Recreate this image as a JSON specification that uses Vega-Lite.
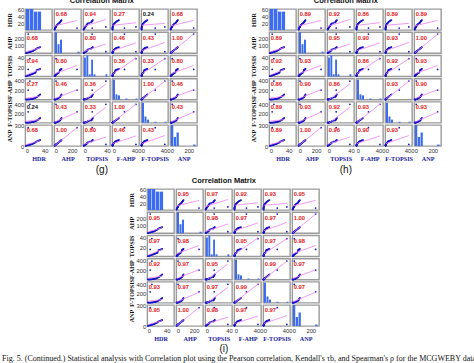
{
"$schema":"https://vega.github.io/schema/vega-lite/v6.json",
"background":"white",
"padding":{"left":2,"top":-3,"right":0,"bottom":0},
"data":{"name":"d"},
"title":{"text":"Fig. 5.   (Continued.) Statistical analysis with Correlation plot using the Pearson correlation, Kendall's τb, and Spearman's ρ for the MCGWEBY dataset","orient":"bottom","anchor":"start","font":"Liberation Serif","fontSize":8,"fontWeight":"normal","offset":1,"dx":-4},
"datasets":{
"d":[
{"H":1.1,"A":2,"T":0.4,"FA":4.0,"FT":5.0,"N":3},
{"H":2.2,"A":4,"T":0.8,"FA":4.0,"FT":5.0,"N":5},
{"H":3.3,"A":6,"T":1.2,"FA":4.1,"FT":5.1,"N":7},
{"H":4.4,"A":8,"T":1.6,"FA":4.3,"FT":5.3,"N":9},
{"H":5.5,"A":10,"T":2.0,"FA":4.6,"FT":5.6,"N":11},
{"H":6.6,"A":12,"T":2.4,"FA":5.1,"FT":6.0,"N":13},
{"H":7.7,"A":14,"T":2.8,"FA":5.7,"FT":6.5,"N":15},
{"H":8.8,"A":16,"T":3.2,"FA":6.6,"FT":7.3,"N":17},
{"H":9.9,"A":18,"T":3.6,"FA":7.6,"FT":8.3,"N":20},
{"H":11.0,"A":20,"T":4.0,"FA":9.0,"FT":9.5,"N":22},
{"H":12.1,"A":22,"T":4.3,"FA":10.7,"FT":11.0,"N":24},
{"H":13.2,"A":24,"T":4.75,"FA":12.6,"FT":12.8,"N":26},
{"H":14.3,"A":26,"T":5.2,"FA":15.0,"FT":14.9,"N":28},
{"H":15.4,"A":30,"T":5.65,"FA":17.7,"FT":17.3,"N":32},
{"H":16.5,"A":34,"T":6.1,"FA":20.9,"FT":20.2,"N":36},
{"H":17.6,"A":38,"T":6.55,"FA":24.5,"FT":23.4,"N":40},
{"H":18.7,"A":42,"T":7.0,"FA":28.6,"FT":27.1,"N":44},
{"H":19.8,"A":46,"T":7.45,"FA":33.2,"FT":31.2,"N":48},
{"H":20.9,"A":50,"T":7.9,"FA":38.3,"FT":35.9,"N":53},
{"H":22.0,"A":58,"T":10.0,"FA":44.0,"FT":41.0,"N":61},
{"H":23.1,"A":61,"T":13.0,"FA":50.3,"FT":46.7,"N":64},
{"H":24.2,"A":64,"T":13.45,"FA":57.2,"FT":52.9,"N":67},
{"H":25.3,"A":67,"T":13.9,"FA":64.8,"FT":59.8,"N":70},
{"H":26.4,"A":70,"T":14.35,"FA":73.1,"FT":67.2,"N":73},
{"H":27.5,"A":73,"T":14.8,"FA":82.1,"FT":75.3,"N":76},
{"H":28.6,"A":76,"T":15.25,"FA":91.9,"FT":84.1,"N":79},
{"H":29.7,"A":79,"T":15.7,"FA":102.4,"FT":93.6,"N":82},
{"H":30.8,"A":82,"T":16.15,"FA":113.8,"FT":103.8,"N":86},
{"H":6,"A":255,"T":15,"FA":205,"FT":235,"N":262},
{"H":9.5,"A":20,"T":38,"FA":398,"FT":396,"N":22}
],
"cg":[
{"c":"H","A":0.68,"T":0.94,"FA":0.27,"FT":0.24,"N":0.68},
{"c":"A","H":0.68,"T":0.80,"FA":0.46,"FT":0.43,"N":1.00},
{"c":"T","H":0.94,"A":0.80,"FA":0.36,"FT":0.33,"N":0.80},
{"c":"FA","H":0.27,"A":0.46,"T":0.36,"FT":1.00,"N":0.46},
{"c":"FT","H":0.24,"A":0.43,"T":0.33,"FA":1.00,"N":0.43},
{"c":"N","H":0.68,"A":1.00,"T":0.80,"FA":0.46,"FT":0.43}
],
"ch":[
{"c":"H","A":0.89,"T":0.92,"FA":0.86,"FT":0.89,"N":0.89},
{"c":"A","H":0.89,"T":0.93,"FA":0.90,"FT":0.93,"N":1.00},
{"c":"T","H":0.92,"A":0.95,"FA":0.86,"FT":0.92,"N":0.96},
{"c":"FA","H":0.86,"A":0.90,"T":0.86,"FT":0.93,"N":0.90},
{"c":"FT","H":0.89,"A":0.93,"T":0.92,"FA":0.93,"N":0.93},
{"c":"N","H":0.89,"A":1.00,"T":0.93,"FA":0.90,"FT":0.93}
],
"ci":[
{"c":"H","A":0.95,"T":0.97,"FA":0.92,"FT":0.93,"N":0.95},
{"c":"A","H":0.95,"T":0.98,"FA":0.97,"FT":0.97,"N":1.00},
{"c":"T","H":0.97,"A":0.98,"FA":0.95,"FT":0.97,"N":0.98},
{"c":"FA","H":0.92,"A":0.97,"T":0.95,"FT":0.99,"N":0.97},
{"c":"FT","H":0.93,"A":0.97,"T":0.97,"FA":0.99,"N":0.97},
{"c":"N","H":0.95,"A":1.00,"T":0.98,"FA":0.97,"FT":0.97}
]
},
"center":true,
"spacing":1,
"vconcat":[
{"spacing":51,"hconcat":[
{"title":{"text":"(g)","orient":"bottom","fontSize":10,"fontWeight":"normal","offset":3},"vconcat":[{"title":{"text":"Correlation Matrix"},"columns":6,"spacing":{"row":2.2,"column":2},"bounds":"flush","concat":[
{"layer":[{"mark":"bar","encoding":{"x":{"field":"H","type":"quantitative","bin":{"step":8},"scale":{"domain":[0,55]},"axis":null},"y":{"aggregate":"count","type":"quantitative","axis":null}}},{"mark":{"type":"point","opacity":0},"encoding":{"y":{"field":"H","type":"quantitative","scale":{"domain":[0,62]},"axis":{"values":[20,40,60],"title":"HDR","orient":"left"}}}}],"resolve":{"scale":{"y":"independent"}}},
{"layer":[{"encoding":{"x":{"field":"A","type":"quantitative","scale":{"domain":[0,300]},"axis":null},"y":{"field":"H","type":"quantitative","scale":{"domain":[0,62]},"axis":null}},"layer":[{"mark":"point"},{"transform":[{"regression":"H","on":"A"}],"mark":{"type":"line","clip":true}}]},{"data":{"name":"cg"},"transform":[{"filter":{"field":"c","equal":"A"}}],"mark":"text","encoding":{"x":{"datum":0,"type":"quantitative","axis":null},"y":{"datum":62,"type":"quantitative","axis":null},"text":{"field":"H","type":"quantitative","format":".2f"}}}]},
{"layer":[{"encoding":{"x":{"field":"T","type":"quantitative","scale":{"domain":[0,45]},"axis":null},"y":{"field":"H","type":"quantitative","scale":{"domain":[0,62]},"axis":null}},"layer":[{"mark":"point"},{"transform":[{"regression":"H","on":"T"}],"mark":{"type":"line","clip":true}}]},{"data":{"name":"cg"},"transform":[{"filter":{"field":"c","equal":"T"}}],"mark":"text","encoding":{"x":{"datum":0,"type":"quantitative","axis":null},"y":{"datum":62,"type":"quantitative","axis":null},"text":{"field":"H","type":"quantitative","format":".2f"}}}]},
{"layer":[{"encoding":{"x":{"field":"FA","type":"quantitative","scale":{"domain":[0,430]},"axis":null},"y":{"field":"H","type":"quantitative","scale":{"domain":[0,62]},"axis":null}},"layer":[{"mark":"point"},{"transform":[{"regression":"H","on":"FA"}],"mark":{"type":"line","clip":true}}]},{"data":{"name":"cg"},"transform":[{"filter":{"field":"c","equal":"FA"}}],"mark":"text","encoding":{"x":{"datum":0,"type":"quantitative","axis":null},"y":{"datum":62,"type":"quantitative","axis":null},"text":{"field":"H","type":"quantitative","format":".2f"}}}]},
{"layer":[{"encoding":{"x":{"field":"FT","type":"quantitative","scale":{"domain":[0,430]},"axis":null},"y":{"field":"H","type":"quantitative","scale":{"domain":[0,62]},"axis":null}},"layer":[{"mark":"point"},{"transform":[{"regression":"H","on":"FT"}],"mark":{"type":"line","clip":true}}]},{"data":{"name":"cg"},"transform":[{"filter":{"field":"c","equal":"FT"}}],"mark":{"type":"text","color":"#111111"},"encoding":{"x":{"datum":0,"type":"quantitative","axis":null},"y":{"datum":62,"type":"quantitative","axis":null},"text":{"field":"H","type":"quantitative","format":".2f"}}}]},
{"layer":[{"encoding":{"x":{"field":"N","type":"quantitative","scale":{"domain":[0,290]},"axis":null},"y":{"field":"H","type":"quantitative","scale":{"domain":[0,62]},"axis":null}},"layer":[{"mark":"point"},{"transform":[{"regression":"H","on":"N"}],"mark":{"type":"line","clip":true}}]},{"data":{"name":"cg"},"transform":[{"filter":{"field":"c","equal":"N"}}],"mark":"text","encoding":{"x":{"datum":0,"type":"quantitative","axis":null},"y":{"datum":62,"type":"quantitative","axis":null},"text":{"field":"H","type":"quantitative","format":".2f"}}}]},
{"layer":[{"encoding":{"x":{"field":"H","type":"quantitative","scale":{"domain":[0,55]},"axis":null},"y":{"field":"A","type":"quantitative","scale":{"domain":[0,265]},"axis":{"values":[100,200],"title":"AHP"}}},"layer":[{"mark":"point"},{"transform":[{"regression":"A","on":"H"}],"mark":{"type":"line","clip":true}}]},{"data":{"name":"cg"},"transform":[{"filter":{"field":"c","equal":"H"}}],"mark":"text","encoding":{"x":{"datum":0,"type":"quantitative","axis":null},"y":{"datum":265,"type":"quantitative"},"text":{"field":"A","type":"quantitative","format":".2f"}}}]},
{"mark":"bar","encoding":{"x":{"field":"A","type":"quantitative","bin":{"step":28},"scale":{"domain":[0,300]},"axis":null},"y":{"aggregate":"count","type":"quantitative","axis":null}}},
{"layer":[{"encoding":{"x":{"field":"T","type":"quantitative","scale":{"domain":[0,45]},"axis":null},"y":{"field":"A","type":"quantitative","scale":{"domain":[0,265]},"axis":null}},"layer":[{"mark":"point"},{"transform":[{"regression":"A","on":"T"}],"mark":{"type":"line","clip":true}}]},{"data":{"name":"cg"},"transform":[{"filter":{"field":"c","equal":"T"}}],"mark":"text","encoding":{"x":{"datum":0,"type":"quantitative","axis":null},"y":{"datum":265,"type":"quantitative","axis":null},"text":{"field":"A","type":"quantitative","format":".2f"}}}]},
{"layer":[{"encoding":{"x":{"field":"FA","type":"quantitative","scale":{"domain":[0,430]},"axis":null},"y":{"field":"A","type":"quantitative","scale":{"domain":[0,265]},"axis":null}},"layer":[{"mark":"point"},{"transform":[{"regression":"A","on":"FA"}],"mark":{"type":"line","clip":true}}]},{"data":{"name":"cg"},"transform":[{"filter":{"field":"c","equal":"FA"}}],"mark":"text","encoding":{"x":{"datum":0,"type":"quantitative","axis":null},"y":{"datum":265,"type":"quantitative","axis":null},"text":{"field":"A","type":"quantitative","format":".2f"}}}]},
{"layer":[{"encoding":{"x":{"field":"FT","type":"quantitative","scale":{"domain":[0,430]},"axis":null},"y":{"field":"A","type":"quantitative","scale":{"domain":[0,265]},"axis":null}},"layer":[{"mark":"point"},{"transform":[{"regression":"A","on":"FT"}],"mark":{"type":"line","clip":true}}]},{"data":{"name":"cg"},"transform":[{"filter":{"field":"c","equal":"FT"}}],"mark":"text","encoding":{"x":{"datum":0,"type":"quantitative","axis":null},"y":{"datum":265,"type":"quantitative","axis":null},"text":{"field":"A","type":"quantitative","format":".2f"}}}]},
{"layer":[{"encoding":{"x":{"field":"N","type":"quantitative","scale":{"domain":[0,290]},"axis":null},"y":{"field":"A","type":"quantitative","scale":{"domain":[0,265]},"axis":null}},"layer":[{"mark":"point"},{"transform":[{"regression":"A","on":"N"}],"mark":{"type":"line","clip":true}}]},{"data":{"name":"cg"},"transform":[{"filter":{"field":"c","equal":"N"}}],"mark":"text","encoding":{"x":{"datum":0,"type":"quantitative","axis":null},"y":{"datum":265,"type":"quantitative","axis":null},"text":{"field":"A","type":"quantitative","format":".2f"}}}]},
{"layer":[{"encoding":{"x":{"field":"H","type":"quantitative","scale":{"domain":[0,55]},"axis":null},"y":{"field":"T","type":"quantitative","scale":{"domain":[0,42]},"axis":{"values":[20,40],"title":"TOPSIS"}}},"layer":[{"mark":"point"},{"transform":[{"regression":"T","on":"H"}],"mark":{"type":"line","clip":true}}]},{"data":{"name":"cg"},"transform":[{"filter":{"field":"c","equal":"H"}}],"mark":"text","encoding":{"x":{"datum":0,"type":"quantitative","axis":null},"y":{"datum":42,"type":"quantitative"},"text":{"field":"T","type":"quantitative","format":".2f"}}}]},
{"layer":[{"encoding":{"x":{"field":"A","type":"quantitative","scale":{"domain":[0,300]},"axis":null},"y":{"field":"T","type":"quantitative","scale":{"domain":[0,42]},"axis":null}},"layer":[{"mark":"point"},{"transform":[{"regression":"T","on":"A"}],"mark":{"type":"line","clip":true}}]},{"data":{"name":"cg"},"transform":[{"filter":{"field":"c","equal":"A"}}],"mark":"text","encoding":{"x":{"datum":0,"type":"quantitative","axis":null},"y":{"datum":42,"type":"quantitative","axis":null},"text":{"field":"T","type":"quantitative","format":".2f"}}}]},
{"mark":"bar","encoding":{"x":{"field":"T","type":"quantitative","bin":{"step":4},"scale":{"domain":[0,45]},"axis":null},"y":{"aggregate":"count","type":"quantitative","axis":null}}},
{"layer":[{"encoding":{"x":{"field":"FA","type":"quantitative","scale":{"domain":[0,430]},"axis":null},"y":{"field":"T","type":"quantitative","scale":{"domain":[0,42]},"axis":null}},"layer":[{"mark":"point"},{"transform":[{"regression":"T","on":"FA"}],"mark":{"type":"line","clip":true}}]},{"data":{"name":"cg"},"transform":[{"filter":{"field":"c","equal":"FA"}}],"mark":"text","encoding":{"x":{"datum":0,"type":"quantitative","axis":null},"y":{"datum":42,"type":"quantitative","axis":null},"text":{"field":"T","type":"quantitative","format":".2f"}}}]},
{"layer":[{"encoding":{"x":{"field":"FT","type":"quantitative","scale":{"domain":[0,430]},"axis":null},"y":{"field":"T","type":"quantitative","scale":{"domain":[0,42]},"axis":null}},"layer":[{"mark":"point"},{"transform":[{"regression":"T","on":"FT"}],"mark":{"type":"line","clip":true}}]},{"data":{"name":"cg"},"transform":[{"filter":{"field":"c","equal":"FT"}}],"mark":"text","encoding":{"x":{"datum":0,"type":"quantitative","axis":null},"y":{"datum":42,"type":"quantitative","axis":null},"text":{"field":"T","type":"quantitative","format":".2f"}}}]},
{"layer":[{"encoding":{"x":{"field":"N","type":"quantitative","scale":{"domain":[0,290]},"axis":null},"y":{"field":"T","type":"quantitative","scale":{"domain":[0,42]},"axis":null}},"layer":[{"mark":"point"},{"transform":[{"regression":"T","on":"N"}],"mark":{"type":"line","clip":true}}]},{"data":{"name":"cg"},"transform":[{"filter":{"field":"c","equal":"N"}}],"mark":"text","encoding":{"x":{"datum":0,"type":"quantitative","axis":null},"y":{"datum":42,"type":"quantitative","axis":null},"text":{"field":"T","type":"quantitative","format":".2f"}}}]},
{"layer":[{"encoding":{"x":{"field":"H","type":"quantitative","scale":{"domain":[0,55]},"axis":null},"y":{"field":"FA","type":"quantitative","scale":{"domain":[0,430]},"axis":{"values":[200,400],"title":"F-AHP"}}},"layer":[{"mark":"point"},{"transform":[{"regression":"FA","on":"H"}],"mark":{"type":"line","clip":true}}]},{"data":{"name":"cg"},"transform":[{"filter":{"field":"c","equal":"H"}}],"mark":"text","encoding":{"x":{"datum":0,"type":"quantitative","axis":null},"y":{"datum":430,"type":"quantitative"},"text":{"field":"FA","type":"quantitative","format":".2f"}}}]},
{"layer":[{"encoding":{"x":{"field":"A","type":"quantitative","scale":{"domain":[0,300]},"axis":null},"y":{"field":"FA","type":"quantitative","scale":{"domain":[0,430]},"axis":null}},"layer":[{"mark":"point"},{"transform":[{"regression":"FA","on":"A"}],"mark":{"type":"line","clip":true}}]},{"data":{"name":"cg"},"transform":[{"filter":{"field":"c","equal":"A"}}],"mark":"text","encoding":{"x":{"datum":0,"type":"quantitative","axis":null},"y":{"datum":430,"type":"quantitative","axis":null},"text":{"field":"FA","type":"quantitative","format":".2f"}}}]},
{"layer":[{"encoding":{"x":{"field":"T","type":"quantitative","scale":{"domain":[0,45]},"axis":null},"y":{"field":"FA","type":"quantitative","scale":{"domain":[0,430]},"axis":null}},"layer":[{"mark":"point"},{"transform":[{"regression":"FA","on":"T"}],"mark":{"type":"line","clip":true}}]},{"data":{"name":"cg"},"transform":[{"filter":{"field":"c","equal":"T"}}],"mark":"text","encoding":{"x":{"datum":0,"type":"quantitative","axis":null},"y":{"datum":430,"type":"quantitative","axis":null},"text":{"field":"FA","type":"quantitative","format":".2f"}}}]},
{"mark":"bar","encoding":{"x":{"field":"FA","type":"quantitative","bin":{"step":40},"scale":{"domain":[0,430]},"axis":null},"y":{"aggregate":"count","type":"quantitative","axis":null}}},
{"layer":[{"encoding":{"x":{"field":"FT","type":"quantitative","scale":{"domain":[0,430]},"axis":null},"y":{"field":"FA","type":"quantitative","scale":{"domain":[0,430]},"axis":null}},"layer":[{"mark":"point"},{"transform":[{"regression":"FA","on":"FT"}],"mark":{"type":"line","clip":true}}]},{"data":{"name":"cg"},"transform":[{"filter":{"field":"c","equal":"FT"}}],"mark":"text","encoding":{"x":{"datum":0,"type":"quantitative","axis":null},"y":{"datum":430,"type":"quantitative","axis":null},"text":{"field":"FA","type":"quantitative","format":".2f"}}}]},
{"layer":[{"encoding":{"x":{"field":"N","type":"quantitative","scale":{"domain":[0,290]},"axis":null},"y":{"field":"FA","type":"quantitative","scale":{"domain":[0,430]},"axis":null}},"layer":[{"mark":"point"},{"transform":[{"regression":"FA","on":"N"}],"mark":{"type":"line","clip":true}}]},{"data":{"name":"cg"},"transform":[{"filter":{"field":"c","equal":"N"}}],"mark":"text","encoding":{"x":{"datum":0,"type":"quantitative","axis":null},"y":{"datum":430,"type":"quantitative","axis":null},"text":{"field":"FA","type":"quantitative","format":".2f"}}}]},
{"layer":[{"encoding":{"x":{"field":"H","type":"quantitative","scale":{"domain":[0,55]},"axis":null},"y":{"field":"FT","type":"quantitative","scale":{"domain":[0,430]},"axis":{"values":[200,400],"title":"F-TOPSIS"}}},"layer":[{"mark":"point"},{"transform":[{"regression":"FT","on":"H"}],"mark":{"type":"line","clip":true}}]},{"data":{"name":"cg"},"transform":[{"filter":{"field":"c","equal":"H"}}],"mark":{"type":"text","color":"#111111"},"encoding":{"x":{"datum":0,"type":"quantitative","axis":null},"y":{"datum":430,"type":"quantitative"},"text":{"field":"FT","type":"quantitative","format":".2f"}}}]},
{"layer":[{"encoding":{"x":{"field":"A","type":"quantitative","scale":{"domain":[0,300]},"axis":null},"y":{"field":"FT","type":"quantitative","scale":{"domain":[0,430]},"axis":null}},"layer":[{"mark":"point"},{"transform":[{"regression":"FT","on":"A"}],"mark":{"type":"line","clip":true}}]},{"data":{"name":"cg"},"transform":[{"filter":{"field":"c","equal":"A"}}],"mark":"text","encoding":{"x":{"datum":0,"type":"quantitative","axis":null},"y":{"datum":430,"type":"quantitative","axis":null},"text":{"field":"FT","type":"quantitative","format":".2f"}}}]},
{"layer":[{"encoding":{"x":{"field":"T","type":"quantitative","scale":{"domain":[0,45]},"axis":null},"y":{"field":"FT","type":"quantitative","scale":{"domain":[0,430]},"axis":null}},"layer":[{"mark":"point"},{"transform":[{"regression":"FT","on":"T"}],"mark":{"type":"line","clip":true}}]},{"data":{"name":"cg"},"transform":[{"filter":{"field":"c","equal":"T"}}],"mark":"text","encoding":{"x":{"datum":0,"type":"quantitative","axis":null},"y":{"datum":430,"type":"quantitative","axis":null},"text":{"field":"FT","type":"quantitative","format":".2f"}}}]},
{"layer":[{"encoding":{"x":{"field":"FA","type":"quantitative","scale":{"domain":[0,430]},"axis":null},"y":{"field":"FT","type":"quantitative","scale":{"domain":[0,430]},"axis":null}},"layer":[{"mark":"point"},{"transform":[{"regression":"FT","on":"FA"}],"mark":{"type":"line","clip":true}}]},{"data":{"name":"cg"},"transform":[{"filter":{"field":"c","equal":"FA"}}],"mark":"text","encoding":{"x":{"datum":0,"type":"quantitative","axis":null},"y":{"datum":430,"type":"quantitative","axis":null},"text":{"field":"FT","type":"quantitative","format":".2f"}}}]},
{"mark":"bar","encoding":{"x":{"field":"FT","type":"quantitative","bin":{"step":40},"scale":{"domain":[0,430]},"axis":null},"y":{"aggregate":"count","type":"quantitative","axis":null}}},
{"layer":[{"encoding":{"x":{"field":"N","type":"quantitative","scale":{"domain":[0,290]},"axis":null},"y":{"field":"FT","type":"quantitative","scale":{"domain":[0,430]},"axis":null}},"layer":[{"mark":"point"},{"transform":[{"regression":"FT","on":"N"}],"mark":{"type":"line","clip":true}}]},{"data":{"name":"cg"},"transform":[{"filter":{"field":"c","equal":"N"}}],"mark":"text","encoding":{"x":{"datum":0,"type":"quantitative","axis":null},"y":{"datum":430,"type":"quantitative","axis":null},"text":{"field":"FT","type":"quantitative","format":".2f"}}}]},
{"layer":[{"encoding":{"x":{"field":"H","type":"quantitative","scale":{"domain":[0,55]},"axis":{"values":[0,20,40],"title":"HDR"}},"y":{"field":"N","type":"quantitative","scale":{"domain":[0,300]},"axis":{"values":[0,100,200,300],"title":"ANP"}}},"layer":[{"mark":"point"},{"transform":[{"regression":"N","on":"H"}],"mark":{"type":"line","clip":true}}]},{"data":{"name":"cg"},"transform":[{"filter":{"field":"c","equal":"H"}}],"mark":"text","encoding":{"x":{"datum":0,"type":"quantitative"},"y":{"datum":300,"type":"quantitative"},"text":{"field":"N","type":"quantitative","format":".2f"}}}]},
{"layer":[{"encoding":{"x":{"field":"A","type":"quantitative","scale":{"domain":[0,300]},"axis":{"values":[0,200],"title":"AHP"}},"y":{"field":"N","type":"quantitative","scale":{"domain":[0,300]},"axis":null}},"layer":[{"mark":"point"},{"transform":[{"regression":"N","on":"A"}],"mark":{"type":"line","clip":true}}]},{"data":{"name":"cg"},"transform":[{"filter":{"field":"c","equal":"A"}}],"mark":"text","encoding":{"x":{"datum":0,"type":"quantitative"},"y":{"datum":300,"type":"quantitative","axis":null},"text":{"field":"N","type":"quantitative","format":".2f"}}}]},
{"layer":[{"encoding":{"x":{"field":"T","type":"quantitative","scale":{"domain":[0,45]},"axis":{"values":[0,20,40],"title":"TOPSIS"}},"y":{"field":"N","type":"quantitative","scale":{"domain":[0,300]},"axis":null}},"layer":[{"mark":"point"},{"transform":[{"regression":"N","on":"T"}],"mark":{"type":"line","clip":true}}]},{"data":{"name":"cg"},"transform":[{"filter":{"field":"c","equal":"T"}}],"mark":"text","encoding":{"x":{"datum":0,"type":"quantitative"},"y":{"datum":300,"type":"quantitative","axis":null},"text":{"field":"N","type":"quantitative","format":".2f"}}}]},
{"layer":[{"encoding":{"x":{"field":"FA","type":"quantitative","scale":{"domain":[0,430]},"axis":{"values":[0,200,400],"title":"F-AHP"}},"y":{"field":"N","type":"quantitative","scale":{"domain":[0,300]},"axis":null}},"layer":[{"mark":"point"},{"transform":[{"regression":"N","on":"FA"}],"mark":{"type":"line","clip":true}}]},{"data":{"name":"cg"},"transform":[{"filter":{"field":"c","equal":"FA"}}],"mark":"text","encoding":{"x":{"datum":0,"type":"quantitative"},"y":{"datum":300,"type":"quantitative","axis":null},"text":{"field":"N","type":"quantitative","format":".2f"}}}]},
{"layer":[{"encoding":{"x":{"field":"FT","type":"quantitative","scale":{"domain":[0,430]},"axis":{"values":[0,200,400],"title":"F-TOPSIS"}},"y":{"field":"N","type":"quantitative","scale":{"domain":[0,300]},"axis":null}},"layer":[{"mark":"point"},{"transform":[{"regression":"N","on":"FT"}],"mark":{"type":"line","clip":true}}]},{"data":{"name":"cg"},"transform":[{"filter":{"field":"c","equal":"FT"}}],"mark":"text","encoding":{"x":{"datum":0,"type":"quantitative"},"y":{"datum":300,"type":"quantitative","axis":null},"text":{"field":"N","type":"quantitative","format":".2f"}}}]},
{"mark":"bar","encoding":{"x":{"field":"N","type":"quantitative","bin":{"step":30},"scale":{"domain":[0,290]},"axis":{"values":[0,200],"title":"ANP"}},"y":{"aggregate":"count","type":"quantitative","axis":null}}}
]}]},
{"title":{"text":"(h)","orient":"bottom","fontSize":10,"fontWeight":"normal","offset":3},"vconcat":[{"title":{"text":"Correlation Matrix"},"columns":6,"spacing":{"row":2.2,"column":2},"bounds":"flush","concat":[
{"layer":[{"mark":"bar","encoding":{"x":{"field":"H","type":"quantitative","bin":{"step":8},"scale":{"domain":[0,55]},"axis":null},"y":{"aggregate":"count","type":"quantitative","axis":null}}},{"mark":{"type":"point","opacity":0},"encoding":{"y":{"field":"H","type":"quantitative","scale":{"domain":[0,62]},"axis":{"values":[20,40,60],"title":"HDR","orient":"left"}}}}],"resolve":{"scale":{"y":"independent"}}},
{"layer":[{"encoding":{"x":{"field":"A","type":"quantitative","scale":{"domain":[0,300]},"axis":null},"y":{"field":"H","type":"quantitative","scale":{"domain":[0,62]},"axis":null}},"layer":[{"mark":"point"},{"transform":[{"regression":"H","on":"A"}],"mark":{"type":"line","clip":true}}]},{"data":{"name":"ch"},"transform":[{"filter":{"field":"c","equal":"A"}}],"mark":"text","encoding":{"x":{"datum":0,"type":"quantitative","axis":null},"y":{"datum":62,"type":"quantitative","axis":null},"text":{"field":"H","type":"quantitative","format":".2f"}}}]},
{"layer":[{"encoding":{"x":{"field":"T","type":"quantitative","scale":{"domain":[0,45]},"axis":null},"y":{"field":"H","type":"quantitative","scale":{"domain":[0,62]},"axis":null}},"layer":[{"mark":"point"},{"transform":[{"regression":"H","on":"T"}],"mark":{"type":"line","clip":true}}]},{"data":{"name":"ch"},"transform":[{"filter":{"field":"c","equal":"T"}}],"mark":"text","encoding":{"x":{"datum":0,"type":"quantitative","axis":null},"y":{"datum":62,"type":"quantitative","axis":null},"text":{"field":"H","type":"quantitative","format":".2f"}}}]},
{"layer":[{"encoding":{"x":{"field":"FA","type":"quantitative","scale":{"domain":[0,430]},"axis":null},"y":{"field":"H","type":"quantitative","scale":{"domain":[0,62]},"axis":null}},"layer":[{"mark":"point"},{"transform":[{"regression":"H","on":"FA"}],"mark":{"type":"line","clip":true}}]},{"data":{"name":"ch"},"transform":[{"filter":{"field":"c","equal":"FA"}}],"mark":"text","encoding":{"x":{"datum":0,"type":"quantitative","axis":null},"y":{"datum":62,"type":"quantitative","axis":null},"text":{"field":"H","type":"quantitative","format":".2f"}}}]},
{"layer":[{"encoding":{"x":{"field":"FT","type":"quantitative","scale":{"domain":[0,430]},"axis":null},"y":{"field":"H","type":"quantitative","scale":{"domain":[0,62]},"axis":null}},"layer":[{"mark":"point"},{"transform":[{"regression":"H","on":"FT"}],"mark":{"type":"line","clip":true}}]},{"data":{"name":"ch"},"transform":[{"filter":{"field":"c","equal":"FT"}}],"mark":"text","encoding":{"x":{"datum":0,"type":"quantitative","axis":null},"y":{"datum":62,"type":"quantitative","axis":null},"text":{"field":"H","type":"quantitative","format":".2f"}}}]},
{"layer":[{"encoding":{"x":{"field":"N","type":"quantitative","scale":{"domain":[0,290]},"axis":null},"y":{"field":"H","type":"quantitative","scale":{"domain":[0,62]},"axis":null}},"layer":[{"mark":"point"},{"transform":[{"regression":"H","on":"N"}],"mark":{"type":"line","clip":true}}]},{"data":{"name":"ch"},"transform":[{"filter":{"field":"c","equal":"N"}}],"mark":"text","encoding":{"x":{"datum":0,"type":"quantitative","axis":null},"y":{"datum":62,"type":"quantitative","axis":null},"text":{"field":"H","type":"quantitative","format":".2f"}}}]},
{"layer":[{"encoding":{"x":{"field":"H","type":"quantitative","scale":{"domain":[0,55]},"axis":null},"y":{"field":"A","type":"quantitative","scale":{"domain":[0,265]},"axis":{"values":[100,200],"title":"AHP"}}},"layer":[{"mark":"point"},{"transform":[{"regression":"A","on":"H"}],"mark":{"type":"line","clip":true}}]},{"data":{"name":"ch"},"transform":[{"filter":{"field":"c","equal":"H"}}],"mark":"text","encoding":{"x":{"datum":0,"type":"quantitative","axis":null},"y":{"datum":265,"type":"quantitative"},"text":{"field":"A","type":"quantitative","format":".2f"}}}]},
{"mark":"bar","encoding":{"x":{"field":"A","type":"quantitative","bin":{"step":28},"scale":{"domain":[0,300]},"axis":null},"y":{"aggregate":"count","type":"quantitative","axis":null}}},
{"layer":[{"encoding":{"x":{"field":"T","type":"quantitative","scale":{"domain":[0,45]},"axis":null},"y":{"field":"A","type":"quantitative","scale":{"domain":[0,265]},"axis":null}},"layer":[{"mark":"point"},{"transform":[{"regression":"A","on":"T"}],"mark":{"type":"line","clip":true}}]},{"data":{"name":"ch"},"transform":[{"filter":{"field":"c","equal":"T"}}],"mark":"text","encoding":{"x":{"datum":0,"type":"quantitative","axis":null},"y":{"datum":265,"type":"quantitative","axis":null},"text":{"field":"A","type":"quantitative","format":".2f"}}}]},
{"layer":[{"encoding":{"x":{"field":"FA","type":"quantitative","scale":{"domain":[0,430]},"axis":null},"y":{"field":"A","type":"quantitative","scale":{"domain":[0,265]},"axis":null}},"layer":[{"mark":"point"},{"transform":[{"regression":"A","on":"FA"}],"mark":{"type":"line","clip":true}}]},{"data":{"name":"ch"},"transform":[{"filter":{"field":"c","equal":"FA"}}],"mark":"text","encoding":{"x":{"datum":0,"type":"quantitative","axis":null},"y":{"datum":265,"type":"quantitative","axis":null},"text":{"field":"A","type":"quantitative","format":".2f"}}}]},
{"layer":[{"encoding":{"x":{"field":"FT","type":"quantitative","scale":{"domain":[0,430]},"axis":null},"y":{"field":"A","type":"quantitative","scale":{"domain":[0,265]},"axis":null}},"layer":[{"mark":"point"},{"transform":[{"regression":"A","on":"FT"}],"mark":{"type":"line","clip":true}}]},{"data":{"name":"ch"},"transform":[{"filter":{"field":"c","equal":"FT"}}],"mark":"text","encoding":{"x":{"datum":0,"type":"quantitative","axis":null},"y":{"datum":265,"type":"quantitative","axis":null},"text":{"field":"A","type":"quantitative","format":".2f"}}}]},
{"layer":[{"encoding":{"x":{"field":"N","type":"quantitative","scale":{"domain":[0,290]},"axis":null},"y":{"field":"A","type":"quantitative","scale":{"domain":[0,265]},"axis":null}},"layer":[{"mark":"point"},{"transform":[{"regression":"A","on":"N"}],"mark":{"type":"line","clip":true}}]},{"data":{"name":"ch"},"transform":[{"filter":{"field":"c","equal":"N"}}],"mark":"text","encoding":{"x":{"datum":0,"type":"quantitative","axis":null},"y":{"datum":265,"type":"quantitative","axis":null},"text":{"field":"A","type":"quantitative","format":".2f"}}}]},
{"layer":[{"encoding":{"x":{"field":"H","type":"quantitative","scale":{"domain":[0,55]},"axis":null},"y":{"field":"T","type":"quantitative","scale":{"domain":[0,42]},"axis":{"values":[20,40],"title":"TOPSIS"}}},"layer":[{"mark":"point"},{"transform":[{"regression":"T","on":"H"}],"mark":{"type":"line","clip":true}}]},{"data":{"name":"ch"},"transform":[{"filter":{"field":"c","equal":"H"}}],"mark":"text","encoding":{"x":{"datum":0,"type":"quantitative","axis":null},"y":{"datum":42,"type":"quantitative"},"text":{"field":"T","type":"quantitative","format":".2f"}}}]},
{"layer":[{"encoding":{"x":{"field":"A","type":"quantitative","scale":{"domain":[0,300]},"axis":null},"y":{"field":"T","type":"quantitative","scale":{"domain":[0,42]},"axis":null}},"layer":[{"mark":"point"},{"transform":[{"regression":"T","on":"A"}],"mark":{"type":"line","clip":true}}]},{"data":{"name":"ch"},"transform":[{"filter":{"field":"c","equal":"A"}}],"mark":"text","encoding":{"x":{"datum":0,"type":"quantitative","axis":null},"y":{"datum":42,"type":"quantitative","axis":null},"text":{"field":"T","type":"quantitative","format":".2f"}}}]},
{"mark":"bar","encoding":{"x":{"field":"T","type":"quantitative","bin":{"step":4},"scale":{"domain":[0,45]},"axis":null},"y":{"aggregate":"count","type":"quantitative","axis":null}}},
{"layer":[{"encoding":{"x":{"field":"FA","type":"quantitative","scale":{"domain":[0,430]},"axis":null},"y":{"field":"T","type":"quantitative","scale":{"domain":[0,42]},"axis":null}},"layer":[{"mark":"point"},{"transform":[{"regression":"T","on":"FA"}],"mark":{"type":"line","clip":true}}]},{"data":{"name":"ch"},"transform":[{"filter":{"field":"c","equal":"FA"}}],"mark":"text","encoding":{"x":{"datum":0,"type":"quantitative","axis":null},"y":{"datum":42,"type":"quantitative","axis":null},"text":{"field":"T","type":"quantitative","format":".2f"}}}]},
{"layer":[{"encoding":{"x":{"field":"FT","type":"quantitative","scale":{"domain":[0,430]},"axis":null},"y":{"field":"T","type":"quantitative","scale":{"domain":[0,42]},"axis":null}},"layer":[{"mark":"point"},{"transform":[{"regression":"T","on":"FT"}],"mark":{"type":"line","clip":true}}]},{"data":{"name":"ch"},"transform":[{"filter":{"field":"c","equal":"FT"}}],"mark":"text","encoding":{"x":{"datum":0,"type":"quantitative","axis":null},"y":{"datum":42,"type":"quantitative","axis":null},"text":{"field":"T","type":"quantitative","format":".2f"}}}]},
{"layer":[{"encoding":{"x":{"field":"N","type":"quantitative","scale":{"domain":[0,290]},"axis":null},"y":{"field":"T","type":"quantitative","scale":{"domain":[0,42]},"axis":null}},"layer":[{"mark":"point"},{"transform":[{"regression":"T","on":"N"}],"mark":{"type":"line","clip":true}}]},{"data":{"name":"ch"},"transform":[{"filter":{"field":"c","equal":"N"}}],"mark":"text","encoding":{"x":{"datum":0,"type":"quantitative","axis":null},"y":{"datum":42,"type":"quantitative","axis":null},"text":{"field":"T","type":"quantitative","format":".2f"}}}]},
{"layer":[{"encoding":{"x":{"field":"H","type":"quantitative","scale":{"domain":[0,55]},"axis":null},"y":{"field":"FA","type":"quantitative","scale":{"domain":[0,430]},"axis":{"values":[200,400],"title":"F-AHP"}}},"layer":[{"mark":"point"},{"transform":[{"regression":"FA","on":"H"}],"mark":{"type":"line","clip":true}}]},{"data":{"name":"ch"},"transform":[{"filter":{"field":"c","equal":"H"}}],"mark":"text","encoding":{"x":{"datum":0,"type":"quantitative","axis":null},"y":{"datum":430,"type":"quantitative"},"text":{"field":"FA","type":"quantitative","format":".2f"}}}]},
{"layer":[{"encoding":{"x":{"field":"A","type":"quantitative","scale":{"domain":[0,300]},"axis":null},"y":{"field":"FA","type":"quantitative","scale":{"domain":[0,430]},"axis":null}},"layer":[{"mark":"point"},{"transform":[{"regression":"FA","on":"A"}],"mark":{"type":"line","clip":true}}]},{"data":{"name":"ch"},"transform":[{"filter":{"field":"c","equal":"A"}}],"mark":"text","encoding":{"x":{"datum":0,"type":"quantitative","axis":null},"y":{"datum":430,"type":"quantitative","axis":null},"text":{"field":"FA","type":"quantitative","format":".2f"}}}]},
{"layer":[{"encoding":{"x":{"field":"T","type":"quantitative","scale":{"domain":[0,45]},"axis":null},"y":{"field":"FA","type":"quantitative","scale":{"domain":[0,430]},"axis":null}},"layer":[{"mark":"point"},{"transform":[{"regression":"FA","on":"T"}],"mark":{"type":"line","clip":true}}]},{"data":{"name":"ch"},"transform":[{"filter":{"field":"c","equal":"T"}}],"mark":"text","encoding":{"x":{"datum":0,"type":"quantitative","axis":null},"y":{"datum":430,"type":"quantitative","axis":null},"text":{"field":"FA","type":"quantitative","format":".2f"}}}]},
{"mark":"bar","encoding":{"x":{"field":"FA","type":"quantitative","bin":{"step":40},"scale":{"domain":[0,430]},"axis":null},"y":{"aggregate":"count","type":"quantitative","axis":null}}},
{"layer":[{"encoding":{"x":{"field":"FT","type":"quantitative","scale":{"domain":[0,430]},"axis":null},"y":{"field":"FA","type":"quantitative","scale":{"domain":[0,430]},"axis":null}},"layer":[{"mark":"point"},{"transform":[{"regression":"FA","on":"FT"}],"mark":{"type":"line","clip":true}}]},{"data":{"name":"ch"},"transform":[{"filter":{"field":"c","equal":"FT"}}],"mark":"text","encoding":{"x":{"datum":0,"type":"quantitative","axis":null},"y":{"datum":430,"type":"quantitative","axis":null},"text":{"field":"FA","type":"quantitative","format":".2f"}}}]},
{"layer":[{"encoding":{"x":{"field":"N","type":"quantitative","scale":{"domain":[0,290]},"axis":null},"y":{"field":"FA","type":"quantitative","scale":{"domain":[0,430]},"axis":null}},"layer":[{"mark":"point"},{"transform":[{"regression":"FA","on":"N"}],"mark":{"type":"line","clip":true}}]},{"data":{"name":"ch"},"transform":[{"filter":{"field":"c","equal":"N"}}],"mark":"text","encoding":{"x":{"datum":0,"type":"quantitative","axis":null},"y":{"datum":430,"type":"quantitative","axis":null},"text":{"field":"FA","type":"quantitative","format":".2f"}}}]},
{"layer":[{"encoding":{"x":{"field":"H","type":"quantitative","scale":{"domain":[0,55]},"axis":null},"y":{"field":"FT","type":"quantitative","scale":{"domain":[0,430]},"axis":{"values":[200,400],"title":"F-TOPSIS"}}},"layer":[{"mark":"point"},{"transform":[{"regression":"FT","on":"H"}],"mark":{"type":"line","clip":true}}]},{"data":{"name":"ch"},"transform":[{"filter":{"field":"c","equal":"H"}}],"mark":"text","encoding":{"x":{"datum":0,"type":"quantitative","axis":null},"y":{"datum":430,"type":"quantitative"},"text":{"field":"FT","type":"quantitative","format":".2f"}}}]},
{"layer":[{"encoding":{"x":{"field":"A","type":"quantitative","scale":{"domain":[0,300]},"axis":null},"y":{"field":"FT","type":"quantitative","scale":{"domain":[0,430]},"axis":null}},"layer":[{"mark":"point"},{"transform":[{"regression":"FT","on":"A"}],"mark":{"type":"line","clip":true}}]},{"data":{"name":"ch"},"transform":[{"filter":{"field":"c","equal":"A"}}],"mark":"text","encoding":{"x":{"datum":0,"type":"quantitative","axis":null},"y":{"datum":430,"type":"quantitative","axis":null},"text":{"field":"FT","type":"quantitative","format":".2f"}}}]},
{"layer":[{"encoding":{"x":{"field":"T","type":"quantitative","scale":{"domain":[0,45]},"axis":null},"y":{"field":"FT","type":"quantitative","scale":{"domain":[0,430]},"axis":null}},"layer":[{"mark":"point"},{"transform":[{"regression":"FT","on":"T"}],"mark":{"type":"line","clip":true}}]},{"data":{"name":"ch"},"transform":[{"filter":{"field":"c","equal":"T"}}],"mark":"text","encoding":{"x":{"datum":0,"type":"quantitative","axis":null},"y":{"datum":430,"type":"quantitative","axis":null},"text":{"field":"FT","type":"quantitative","format":".2f"}}}]},
{"layer":[{"encoding":{"x":{"field":"FA","type":"quantitative","scale":{"domain":[0,430]},"axis":null},"y":{"field":"FT","type":"quantitative","scale":{"domain":[0,430]},"axis":null}},"layer":[{"mark":"point"},{"transform":[{"regression":"FT","on":"FA"}],"mark":{"type":"line","clip":true}}]},{"data":{"name":"ch"},"transform":[{"filter":{"field":"c","equal":"FA"}}],"mark":"text","encoding":{"x":{"datum":0,"type":"quantitative","axis":null},"y":{"datum":430,"type":"quantitative","axis":null},"text":{"field":"FT","type":"quantitative","format":".2f"}}}]},
{"mark":"bar","encoding":{"x":{"field":"FT","type":"quantitative","bin":{"step":40},"scale":{"domain":[0,430]},"axis":null},"y":{"aggregate":"count","type":"quantitative","axis":null}}},
{"layer":[{"encoding":{"x":{"field":"N","type":"quantitative","scale":{"domain":[0,290]},"axis":null},"y":{"field":"FT","type":"quantitative","scale":{"domain":[0,430]},"axis":null}},"layer":[{"mark":"point"},{"transform":[{"regression":"FT","on":"N"}],"mark":{"type":"line","clip":true}}]},{"data":{"name":"ch"},"transform":[{"filter":{"field":"c","equal":"N"}}],"mark":"text","encoding":{"x":{"datum":0,"type":"quantitative","axis":null},"y":{"datum":430,"type":"quantitative","axis":null},"text":{"field":"FT","type":"quantitative","format":".2f"}}}]},
{"layer":[{"encoding":{"x":{"field":"H","type":"quantitative","scale":{"domain":[0,55]},"axis":{"values":[0,20,40],"title":"HDR"}},"y":{"field":"N","type":"quantitative","scale":{"domain":[0,300]},"axis":{"values":[0,100,200,300],"title":"ANP"}}},"layer":[{"mark":"point"},{"transform":[{"regression":"N","on":"H"}],"mark":{"type":"line","clip":true}}]},{"data":{"name":"ch"},"transform":[{"filter":{"field":"c","equal":"H"}}],"mark":"text","encoding":{"x":{"datum":0,"type":"quantitative"},"y":{"datum":300,"type":"quantitative"},"text":{"field":"N","type":"quantitative","format":".2f"}}}]},
{"layer":[{"encoding":{"x":{"field":"A","type":"quantitative","scale":{"domain":[0,300]},"axis":{"values":[0,200],"title":"AHP"}},"y":{"field":"N","type":"quantitative","scale":{"domain":[0,300]},"axis":null}},"layer":[{"mark":"point"},{"transform":[{"regression":"N","on":"A"}],"mark":{"type":"line","clip":true}}]},{"data":{"name":"ch"},"transform":[{"filter":{"field":"c","equal":"A"}}],"mark":"text","encoding":{"x":{"datum":0,"type":"quantitative"},"y":{"datum":300,"type":"quantitative","axis":null},"text":{"field":"N","type":"quantitative","format":".2f"}}}]},
{"layer":[{"encoding":{"x":{"field":"T","type":"quantitative","scale":{"domain":[0,45]},"axis":{"values":[0,20,40],"title":"TOPSIS"}},"y":{"field":"N","type":"quantitative","scale":{"domain":[0,300]},"axis":null}},"layer":[{"mark":"point"},{"transform":[{"regression":"N","on":"T"}],"mark":{"type":"line","clip":true}}]},{"data":{"name":"ch"},"transform":[{"filter":{"field":"c","equal":"T"}}],"mark":"text","encoding":{"x":{"datum":0,"type":"quantitative"},"y":{"datum":300,"type":"quantitative","axis":null},"text":{"field":"N","type":"quantitative","format":".2f"}}}]},
{"layer":[{"encoding":{"x":{"field":"FA","type":"quantitative","scale":{"domain":[0,430]},"axis":{"values":[0,200,400],"title":"F-AHP"}},"y":{"field":"N","type":"quantitative","scale":{"domain":[0,300]},"axis":null}},"layer":[{"mark":"point"},{"transform":[{"regression":"N","on":"FA"}],"mark":{"type":"line","clip":true}}]},{"data":{"name":"ch"},"transform":[{"filter":{"field":"c","equal":"FA"}}],"mark":"text","encoding":{"x":{"datum":0,"type":"quantitative"},"y":{"datum":300,"type":"quantitative","axis":null},"text":{"field":"N","type":"quantitative","format":".2f"}}}]},
{"layer":[{"encoding":{"x":{"field":"FT","type":"quantitative","scale":{"domain":[0,430]},"axis":{"values":[0,200,400],"title":"F-TOPSIS"}},"y":{"field":"N","type":"quantitative","scale":{"domain":[0,300]},"axis":null}},"layer":[{"mark":"point"},{"transform":[{"regression":"N","on":"FT"}],"mark":{"type":"line","clip":true}}]},{"data":{"name":"ch"},"transform":[{"filter":{"field":"c","equal":"FT"}}],"mark":"text","encoding":{"x":{"datum":0,"type":"quantitative"},"y":{"datum":300,"type":"quantitative","axis":null},"text":{"field":"N","type":"quantitative","format":".2f"}}}]},
{"mark":"bar","encoding":{"x":{"field":"N","type":"quantitative","bin":{"step":30},"scale":{"domain":[0,290]},"axis":{"values":[0,200],"title":"ANP"}},"y":{"aggregate":"count","type":"quantitative","axis":null}}}
]}]}
]},
{"title":{"text":"(i)","orient":"bottom","fontSize":10,"fontWeight":"normal","offset":2},"vconcat":[{"title":{"text":"Correlation Matrix"},"columns":6,"spacing":{"row":2.2,"column":2},"bounds":"flush","concat":[
{"layer":[{"mark":"bar","encoding":{"x":{"field":"H","type":"quantitative","bin":{"step":8},"scale":{"domain":[0,55]},"axis":null},"y":{"aggregate":"count","type":"quantitative","axis":null}}},{"mark":{"type":"point","opacity":0},"encoding":{"y":{"field":"H","type":"quantitative","scale":{"domain":[0,62]},"axis":{"values":[20,40,60],"title":"HDR","orient":"left"}}}}],"resolve":{"scale":{"y":"independent"}}},
{"layer":[{"encoding":{"x":{"field":"A","type":"quantitative","scale":{"domain":[0,300]},"axis":null},"y":{"field":"H","type":"quantitative","scale":{"domain":[0,62]},"axis":null}},"layer":[{"mark":"point"},{"transform":[{"regression":"H","on":"A"}],"mark":{"type":"line","clip":true}}]},{"data":{"name":"ci"},"transform":[{"filter":{"field":"c","equal":"A"}}],"mark":"text","encoding":{"x":{"datum":0,"type":"quantitative","axis":null},"y":{"datum":62,"type":"quantitative","axis":null},"text":{"field":"H","type":"quantitative","format":".2f"}}}]},
{"layer":[{"encoding":{"x":{"field":"T","type":"quantitative","scale":{"domain":[0,45]},"axis":null},"y":{"field":"H","type":"quantitative","scale":{"domain":[0,62]},"axis":null}},"layer":[{"mark":"point"},{"transform":[{"regression":"H","on":"T"}],"mark":{"type":"line","clip":true}}]},{"data":{"name":"ci"},"transform":[{"filter":{"field":"c","equal":"T"}}],"mark":"text","encoding":{"x":{"datum":0,"type":"quantitative","axis":null},"y":{"datum":62,"type":"quantitative","axis":null},"text":{"field":"H","type":"quantitative","format":".2f"}}}]},
{"layer":[{"encoding":{"x":{"field":"FA","type":"quantitative","scale":{"domain":[0,430]},"axis":null},"y":{"field":"H","type":"quantitative","scale":{"domain":[0,62]},"axis":null}},"layer":[{"mark":"point"},{"transform":[{"regression":"H","on":"FA"}],"mark":{"type":"line","clip":true}}]},{"data":{"name":"ci"},"transform":[{"filter":{"field":"c","equal":"FA"}}],"mark":"text","encoding":{"x":{"datum":0,"type":"quantitative","axis":null},"y":{"datum":62,"type":"quantitative","axis":null},"text":{"field":"H","type":"quantitative","format":".2f"}}}]},
{"layer":[{"encoding":{"x":{"field":"FT","type":"quantitative","scale":{"domain":[0,430]},"axis":null},"y":{"field":"H","type":"quantitative","scale":{"domain":[0,62]},"axis":null}},"layer":[{"mark":"point"},{"transform":[{"regression":"H","on":"FT"}],"mark":{"type":"line","clip":true}}]},{"data":{"name":"ci"},"transform":[{"filter":{"field":"c","equal":"FT"}}],"mark":"text","encoding":{"x":{"datum":0,"type":"quantitative","axis":null},"y":{"datum":62,"type":"quantitative","axis":null},"text":{"field":"H","type":"quantitative","format":".2f"}}}]},
{"layer":[{"encoding":{"x":{"field":"N","type":"quantitative","scale":{"domain":[0,290]},"axis":null},"y":{"field":"H","type":"quantitative","scale":{"domain":[0,62]},"axis":null}},"layer":[{"mark":"point"},{"transform":[{"regression":"H","on":"N"}],"mark":{"type":"line","clip":true}}]},{"data":{"name":"ci"},"transform":[{"filter":{"field":"c","equal":"N"}}],"mark":"text","encoding":{"x":{"datum":0,"type":"quantitative","axis":null},"y":{"datum":62,"type":"quantitative","axis":null},"text":{"field":"H","type":"quantitative","format":".2f"}}}]},
{"layer":[{"encoding":{"x":{"field":"H","type":"quantitative","scale":{"domain":[0,55]},"axis":null},"y":{"field":"A","type":"quantitative","scale":{"domain":[0,265]},"axis":{"values":[100,200],"title":"AHP"}}},"layer":[{"mark":"point"},{"transform":[{"regression":"A","on":"H"}],"mark":{"type":"line","clip":true}}]},{"data":{"name":"ci"},"transform":[{"filter":{"field":"c","equal":"H"}}],"mark":"text","encoding":{"x":{"datum":0,"type":"quantitative","axis":null},"y":{"datum":265,"type":"quantitative"},"text":{"field":"A","type":"quantitative","format":".2f"}}}]},
{"mark":"bar","encoding":{"x":{"field":"A","type":"quantitative","bin":{"step":28},"scale":{"domain":[0,300]},"axis":null},"y":{"aggregate":"count","type":"quantitative","axis":null}}},
{"layer":[{"encoding":{"x":{"field":"T","type":"quantitative","scale":{"domain":[0,45]},"axis":null},"y":{"field":"A","type":"quantitative","scale":{"domain":[0,265]},"axis":null}},"layer":[{"mark":"point"},{"transform":[{"regression":"A","on":"T"}],"mark":{"type":"line","clip":true}}]},{"data":{"name":"ci"},"transform":[{"filter":{"field":"c","equal":"T"}}],"mark":"text","encoding":{"x":{"datum":0,"type":"quantitative","axis":null},"y":{"datum":265,"type":"quantitative","axis":null},"text":{"field":"A","type":"quantitative","format":".2f"}}}]},
{"layer":[{"encoding":{"x":{"field":"FA","type":"quantitative","scale":{"domain":[0,430]},"axis":null},"y":{"field":"A","type":"quantitative","scale":{"domain":[0,265]},"axis":null}},"layer":[{"mark":"point"},{"transform":[{"regression":"A","on":"FA"}],"mark":{"type":"line","clip":true}}]},{"data":{"name":"ci"},"transform":[{"filter":{"field":"c","equal":"FA"}}],"mark":"text","encoding":{"x":{"datum":0,"type":"quantitative","axis":null},"y":{"datum":265,"type":"quantitative","axis":null},"text":{"field":"A","type":"quantitative","format":".2f"}}}]},
{"layer":[{"encoding":{"x":{"field":"FT","type":"quantitative","scale":{"domain":[0,430]},"axis":null},"y":{"field":"A","type":"quantitative","scale":{"domain":[0,265]},"axis":null}},"layer":[{"mark":"point"},{"transform":[{"regression":"A","on":"FT"}],"mark":{"type":"line","clip":true}}]},{"data":{"name":"ci"},"transform":[{"filter":{"field":"c","equal":"FT"}}],"mark":"text","encoding":{"x":{"datum":0,"type":"quantitative","axis":null},"y":{"datum":265,"type":"quantitative","axis":null},"text":{"field":"A","type":"quantitative","format":".2f"}}}]},
{"layer":[{"encoding":{"x":{"field":"N","type":"quantitative","scale":{"domain":[0,290]},"axis":null},"y":{"field":"A","type":"quantitative","scale":{"domain":[0,265]},"axis":null}},"layer":[{"mark":"point"},{"transform":[{"regression":"A","on":"N"}],"mark":{"type":"line","clip":true}}]},{"data":{"name":"ci"},"transform":[{"filter":{"field":"c","equal":"N"}}],"mark":"text","encoding":{"x":{"datum":0,"type":"quantitative","axis":null},"y":{"datum":265,"type":"quantitative","axis":null},"text":{"field":"A","type":"quantitative","format":".2f"}}}]},
{"layer":[{"encoding":{"x":{"field":"H","type":"quantitative","scale":{"domain":[0,55]},"axis":null},"y":{"field":"T","type":"quantitative","scale":{"domain":[0,42]},"axis":{"values":[20,40],"title":"TOPSIS"}}},"layer":[{"mark":"point"},{"transform":[{"regression":"T","on":"H"}],"mark":{"type":"line","clip":true}}]},{"data":{"name":"ci"},"transform":[{"filter":{"field":"c","equal":"H"}}],"mark":"text","encoding":{"x":{"datum":0,"type":"quantitative","axis":null},"y":{"datum":42,"type":"quantitative"},"text":{"field":"T","type":"quantitative","format":".2f"}}}]},
{"layer":[{"encoding":{"x":{"field":"A","type":"quantitative","scale":{"domain":[0,300]},"axis":null},"y":{"field":"T","type":"quantitative","scale":{"domain":[0,42]},"axis":null}},"layer":[{"mark":"point"},{"transform":[{"regression":"T","on":"A"}],"mark":{"type":"line","clip":true}}]},{"data":{"name":"ci"},"transform":[{"filter":{"field":"c","equal":"A"}}],"mark":"text","encoding":{"x":{"datum":0,"type":"quantitative","axis":null},"y":{"datum":42,"type":"quantitative","axis":null},"text":{"field":"T","type":"quantitative","format":".2f"}}}]},
{"mark":"bar","encoding":{"x":{"field":"T","type":"quantitative","bin":{"step":4},"scale":{"domain":[0,45]},"axis":null},"y":{"aggregate":"count","type":"quantitative","axis":null}}},
{"layer":[{"encoding":{"x":{"field":"FA","type":"quantitative","scale":{"domain":[0,430]},"axis":null},"y":{"field":"T","type":"quantitative","scale":{"domain":[0,42]},"axis":null}},"layer":[{"mark":"point"},{"transform":[{"regression":"T","on":"FA"}],"mark":{"type":"line","clip":true}}]},{"data":{"name":"ci"},"transform":[{"filter":{"field":"c","equal":"FA"}}],"mark":"text","encoding":{"x":{"datum":0,"type":"quantitative","axis":null},"y":{"datum":42,"type":"quantitative","axis":null},"text":{"field":"T","type":"quantitative","format":".2f"}}}]},
{"layer":[{"encoding":{"x":{"field":"FT","type":"quantitative","scale":{"domain":[0,430]},"axis":null},"y":{"field":"T","type":"quantitative","scale":{"domain":[0,42]},"axis":null}},"layer":[{"mark":"point"},{"transform":[{"regression":"T","on":"FT"}],"mark":{"type":"line","clip":true}}]},{"data":{"name":"ci"},"transform":[{"filter":{"field":"c","equal":"FT"}}],"mark":"text","encoding":{"x":{"datum":0,"type":"quantitative","axis":null},"y":{"datum":42,"type":"quantitative","axis":null},"text":{"field":"T","type":"quantitative","format":".2f"}}}]},
{"layer":[{"encoding":{"x":{"field":"N","type":"quantitative","scale":{"domain":[0,290]},"axis":null},"y":{"field":"T","type":"quantitative","scale":{"domain":[0,42]},"axis":null}},"layer":[{"mark":"point"},{"transform":[{"regression":"T","on":"N"}],"mark":{"type":"line","clip":true}}]},{"data":{"name":"ci"},"transform":[{"filter":{"field":"c","equal":"N"}}],"mark":"text","encoding":{"x":{"datum":0,"type":"quantitative","axis":null},"y":{"datum":42,"type":"quantitative","axis":null},"text":{"field":"T","type":"quantitative","format":".2f"}}}]},
{"layer":[{"encoding":{"x":{"field":"H","type":"quantitative","scale":{"domain":[0,55]},"axis":null},"y":{"field":"FA","type":"quantitative","scale":{"domain":[0,430]},"axis":{"values":[200,400],"title":"F-AHP"}}},"layer":[{"mark":"point"},{"transform":[{"regression":"FA","on":"H"}],"mark":{"type":"line","clip":true}}]},{"data":{"name":"ci"},"transform":[{"filter":{"field":"c","equal":"H"}}],"mark":"text","encoding":{"x":{"datum":0,"type":"quantitative","axis":null},"y":{"datum":430,"type":"quantitative"},"text":{"field":"FA","type":"quantitative","format":".2f"}}}]},
{"layer":[{"encoding":{"x":{"field":"A","type":"quantitative","scale":{"domain":[0,300]},"axis":null},"y":{"field":"FA","type":"quantitative","scale":{"domain":[0,430]},"axis":null}},"layer":[{"mark":"point"},{"transform":[{"regression":"FA","on":"A"}],"mark":{"type":"line","clip":true}}]},{"data":{"name":"ci"},"transform":[{"filter":{"field":"c","equal":"A"}}],"mark":"text","encoding":{"x":{"datum":0,"type":"quantitative","axis":null},"y":{"datum":430,"type":"quantitative","axis":null},"text":{"field":"FA","type":"quantitative","format":".2f"}}}]},
{"layer":[{"encoding":{"x":{"field":"T","type":"quantitative","scale":{"domain":[0,45]},"axis":null},"y":{"field":"FA","type":"quantitative","scale":{"domain":[0,430]},"axis":null}},"layer":[{"mark":"point"},{"transform":[{"regression":"FA","on":"T"}],"mark":{"type":"line","clip":true}}]},{"data":{"name":"ci"},"transform":[{"filter":{"field":"c","equal":"T"}}],"mark":"text","encoding":{"x":{"datum":0,"type":"quantitative","axis":null},"y":{"datum":430,"type":"quantitative","axis":null},"text":{"field":"FA","type":"quantitative","format":".2f"}}}]},
{"mark":"bar","encoding":{"x":{"field":"FA","type":"quantitative","bin":{"step":40},"scale":{"domain":[0,430]},"axis":null},"y":{"aggregate":"count","type":"quantitative","axis":null}}},
{"layer":[{"encoding":{"x":{"field":"FT","type":"quantitative","scale":{"domain":[0,430]},"axis":null},"y":{"field":"FA","type":"quantitative","scale":{"domain":[0,430]},"axis":null}},"layer":[{"mark":"point"},{"transform":[{"regression":"FA","on":"FT"}],"mark":{"type":"line","clip":true}}]},{"data":{"name":"ci"},"transform":[{"filter":{"field":"c","equal":"FT"}}],"mark":"text","encoding":{"x":{"datum":0,"type":"quantitative","axis":null},"y":{"datum":430,"type":"quantitative","axis":null},"text":{"field":"FA","type":"quantitative","format":".2f"}}}]},
{"layer":[{"encoding":{"x":{"field":"N","type":"quantitative","scale":{"domain":[0,290]},"axis":null},"y":{"field":"FA","type":"quantitative","scale":{"domain":[0,430]},"axis":null}},"layer":[{"mark":"point"},{"transform":[{"regression":"FA","on":"N"}],"mark":{"type":"line","clip":true}}]},{"data":{"name":"ci"},"transform":[{"filter":{"field":"c","equal":"N"}}],"mark":"text","encoding":{"x":{"datum":0,"type":"quantitative","axis":null},"y":{"datum":430,"type":"quantitative","axis":null},"text":{"field":"FA","type":"quantitative","format":".2f"}}}]},
{"layer":[{"encoding":{"x":{"field":"H","type":"quantitative","scale":{"domain":[0,55]},"axis":null},"y":{"field":"FT","type":"quantitative","scale":{"domain":[0,430]},"axis":{"values":[200,400],"title":"F-TOPSIS"}}},"layer":[{"mark":"point"},{"transform":[{"regression":"FT","on":"H"}],"mark":{"type":"line","clip":true}}]},{"data":{"name":"ci"},"transform":[{"filter":{"field":"c","equal":"H"}}],"mark":"text","encoding":{"x":{"datum":0,"type":"quantitative","axis":null},"y":{"datum":430,"type":"quantitative"},"text":{"field":"FT","type":"quantitative","format":".2f"}}}]},
{"layer":[{"encoding":{"x":{"field":"A","type":"quantitative","scale":{"domain":[0,300]},"axis":null},"y":{"field":"FT","type":"quantitative","scale":{"domain":[0,430]},"axis":null}},"layer":[{"mark":"point"},{"transform":[{"regression":"FT","on":"A"}],"mark":{"type":"line","clip":true}}]},{"data":{"name":"ci"},"transform":[{"filter":{"field":"c","equal":"A"}}],"mark":"text","encoding":{"x":{"datum":0,"type":"quantitative","axis":null},"y":{"datum":430,"type":"quantitative","axis":null},"text":{"field":"FT","type":"quantitative","format":".2f"}}}]},
{"layer":[{"encoding":{"x":{"field":"T","type":"quantitative","scale":{"domain":[0,45]},"axis":null},"y":{"field":"FT","type":"quantitative","scale":{"domain":[0,430]},"axis":null}},"layer":[{"mark":"point"},{"transform":[{"regression":"FT","on":"T"}],"mark":{"type":"line","clip":true}}]},{"data":{"name":"ci"},"transform":[{"filter":{"field":"c","equal":"T"}}],"mark":"text","encoding":{"x":{"datum":0,"type":"quantitative","axis":null},"y":{"datum":430,"type":"quantitative","axis":null},"text":{"field":"FT","type":"quantitative","format":".2f"}}}]},
{"layer":[{"encoding":{"x":{"field":"FA","type":"quantitative","scale":{"domain":[0,430]},"axis":null},"y":{"field":"FT","type":"quantitative","scale":{"domain":[0,430]},"axis":null}},"layer":[{"mark":"point"},{"transform":[{"regression":"FT","on":"FA"}],"mark":{"type":"line","clip":true}}]},{"data":{"name":"ci"},"transform":[{"filter":{"field":"c","equal":"FA"}}],"mark":"text","encoding":{"x":{"datum":0,"type":"quantitative","axis":null},"y":{"datum":430,"type":"quantitative","axis":null},"text":{"field":"FT","type":"quantitative","format":".2f"}}}]},
{"mark":"bar","encoding":{"x":{"field":"FT","type":"quantitative","bin":{"step":40},"scale":{"domain":[0,430]},"axis":null},"y":{"aggregate":"count","type":"quantitative","axis":null}}},
{"layer":[{"encoding":{"x":{"field":"N","type":"quantitative","scale":{"domain":[0,290]},"axis":null},"y":{"field":"FT","type":"quantitative","scale":{"domain":[0,430]},"axis":null}},"layer":[{"mark":"point"},{"transform":[{"regression":"FT","on":"N"}],"mark":{"type":"line","clip":true}}]},{"data":{"name":"ci"},"transform":[{"filter":{"field":"c","equal":"N"}}],"mark":"text","encoding":{"x":{"datum":0,"type":"quantitative","axis":null},"y":{"datum":430,"type":"quantitative","axis":null},"text":{"field":"FT","type":"quantitative","format":".2f"}}}]},
{"layer":[{"encoding":{"x":{"field":"H","type":"quantitative","scale":{"domain":[0,55]},"axis":{"values":[0,20,40],"title":"HDR"}},"y":{"field":"N","type":"quantitative","scale":{"domain":[0,300]},"axis":{"values":[0,100,200,300],"title":"ANP"}}},"layer":[{"mark":"point"},{"transform":[{"regression":"N","on":"H"}],"mark":{"type":"line","clip":true}}]},{"data":{"name":"ci"},"transform":[{"filter":{"field":"c","equal":"H"}}],"mark":"text","encoding":{"x":{"datum":0,"type":"quantitative"},"y":{"datum":300,"type":"quantitative"},"text":{"field":"N","type":"quantitative","format":".2f"}}}]},
{"layer":[{"encoding":{"x":{"field":"A","type":"quantitative","scale":{"domain":[0,300]},"axis":{"values":[0,200],"title":"AHP"}},"y":{"field":"N","type":"quantitative","scale":{"domain":[0,300]},"axis":null}},"layer":[{"mark":"point"},{"transform":[{"regression":"N","on":"A"}],"mark":{"type":"line","clip":true}}]},{"data":{"name":"ci"},"transform":[{"filter":{"field":"c","equal":"A"}}],"mark":"text","encoding":{"x":{"datum":0,"type":"quantitative"},"y":{"datum":300,"type":"quantitative","axis":null},"text":{"field":"N","type":"quantitative","format":".2f"}}}]},
{"layer":[{"encoding":{"x":{"field":"T","type":"quantitative","scale":{"domain":[0,45]},"axis":{"values":[0,20,40],"title":"TOPSIS"}},"y":{"field":"N","type":"quantitative","scale":{"domain":[0,300]},"axis":null}},"layer":[{"mark":"point"},{"transform":[{"regression":"N","on":"T"}],"mark":{"type":"line","clip":true}}]},{"data":{"name":"ci"},"transform":[{"filter":{"field":"c","equal":"T"}}],"mark":"text","encoding":{"x":{"datum":0,"type":"quantitative"},"y":{"datum":300,"type":"quantitative","axis":null},"text":{"field":"N","type":"quantitative","format":".2f"}}}]},
{"layer":[{"encoding":{"x":{"field":"FA","type":"quantitative","scale":{"domain":[0,430]},"axis":{"values":[0,200,400],"title":"F-AHP"}},"y":{"field":"N","type":"quantitative","scale":{"domain":[0,300]},"axis":null}},"layer":[{"mark":"point"},{"transform":[{"regression":"N","on":"FA"}],"mark":{"type":"line","clip":true}}]},{"data":{"name":"ci"},"transform":[{"filter":{"field":"c","equal":"FA"}}],"mark":"text","encoding":{"x":{"datum":0,"type":"quantitative"},"y":{"datum":300,"type":"quantitative","axis":null},"text":{"field":"N","type":"quantitative","format":".2f"}}}]},
{"layer":[{"encoding":{"x":{"field":"FT","type":"quantitative","scale":{"domain":[0,430]},"axis":{"values":[0,200,400],"title":"F-TOPSIS"}},"y":{"field":"N","type":"quantitative","scale":{"domain":[0,300]},"axis":null}},"layer":[{"mark":"point"},{"transform":[{"regression":"N","on":"FT"}],"mark":{"type":"line","clip":true}}]},{"data":{"name":"ci"},"transform":[{"filter":{"field":"c","equal":"FT"}}],"mark":"text","encoding":{"x":{"datum":0,"type":"quantitative"},"y":{"datum":300,"type":"quantitative","axis":null},"text":{"field":"N","type":"quantitative","format":".2f"}}}]},
{"mark":"bar","encoding":{"x":{"field":"N","type":"quantitative","bin":{"step":30},"scale":{"domain":[0,290]},"axis":{"values":[0,200],"title":"ANP"}},"y":{"aggregate":"count","type":"quantitative","axis":null}}}
]}]}
],
"config":{
"font":"Liberation Sans",
"view":{"continuousWidth":26.8,"continuousHeight":21,"stroke":"#9b9b9b","strokeWidth":1.4},
"point":{"filled":true,"size":3,"color":"#1414c8","opacity":1},
"line":{"color":"#f27ff2","strokeWidth":0.8},
"bar":{"color":"#3e6cf0","binSpacing":0.5},
"text":{"align":"left","baseline":"top","dx":1.5,"dy":1.5,"fontSize":5.8,"fontWeight":"bold","color":"#e8191c"},
"axis":{"grid":false,"domain":false,"ticks":false,"labelFontSize":5.8,"labelColor":"#333333","labelPadding":1.5},
"axisY":{"titleFont":"Liberation Serif","titleFontSize":6.2,"titleFontWeight":"bold","titleColor":"#111111","titlePadding":0.5,"minExtent":12,"maxExtent":12},
"axisX":{"titleFont":"Liberation Serif","titleFontSize":6.2,"titleFontWeight":"bold","titleColor":"#22229a","titlePadding":2},
"title":{"font":"Liberation Sans","fontSize":7.5,"fontWeight":"bold","anchor":"middle","offset":1,"color":"#111111"}
}
}
